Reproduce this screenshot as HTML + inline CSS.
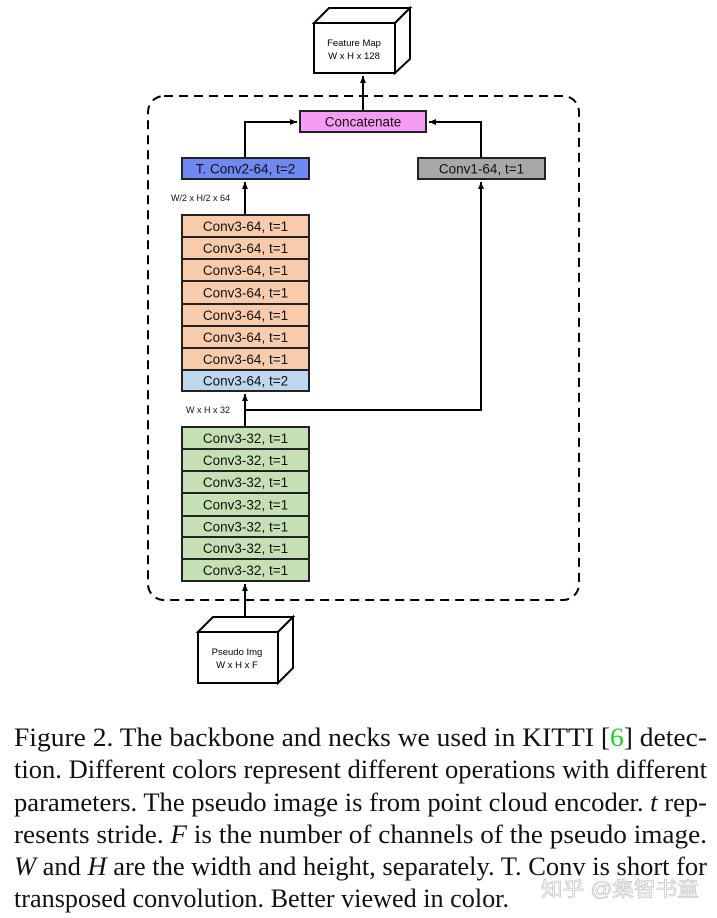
<!DOCTYPE html>
<html><head><meta charset="utf-8"><style>
html,body{margin:0;padding:0;background:#fff;}
svg{display:block;}
</style></head><body>
<svg width="717" height="918" viewBox="0 0 717 918" xmlns="http://www.w3.org/2000/svg">
<defs>
<marker id="ar" markerWidth="8" markerHeight="8" refX="7" refY="4" orient="auto" markerUnits="userSpaceOnUse">
<path d="M0,1 L7,4 L0,7 Z" fill="#000"/>
</marker>
</defs>
<rect x="0" y="0" width="717" height="918" fill="#fff"/>
<rect x="148" y="96" width="431" height="504" rx="16" ry="16" fill="none" stroke="#000" stroke-width="2" stroke-dasharray="9,6"/>

<g stroke="#000" stroke-width="2" fill="#fff">
<path d="M314,23 L329,8 L410,8 L395,23 Z"/>
<path d="M395,23 L410,8 L410,59 L395,73 Z"/>
<rect x="314" y="23" width="81" height="50"/>
</g>
<g font-family="Liberation Sans, sans-serif" font-size="9.5" text-anchor="middle" fill="#000">
<text x="354" y="46">Feature Map</text>
<text x="354" y="59">W x H x 128</text>
</g>

<g stroke="#000" stroke-width="2" fill="#fff">
<path d="M198,632 L213,617 L293,617 L278,632 Z"/>
<path d="M278,632 L293,617 L293,668 L278,683 Z"/>
<rect x="198" y="632" width="80" height="51"/>
</g>
<g font-family="Liberation Sans, sans-serif" font-size="9.5" text-anchor="middle" fill="#000">
<text x="237" y="655">Pseudo Img</text>
<text x="237" y="668">W x H x F</text>
</g>

<g stroke="#000" stroke-width="2" fill="none">
<line x1="363" y1="111" x2="363" y2="76" marker-end="url(#ar)"/>
<polyline points="245,158 245,122 297,122" marker-end="url(#ar)"/>
<polyline points="481,158 481,122 429,122" marker-end="url(#ar)"/>
<line x1="245" y1="215" x2="245" y2="182" marker-end="url(#ar)"/>
<line x1="245" y1="427" x2="245" y2="394" marker-end="url(#ar)"/>
<polyline points="245,410 481,410 481,182" marker-end="url(#ar)"/>
<line x1="245" y1="617" x2="245" y2="584" marker-end="url(#ar)"/>
</g>

<g stroke="#222" stroke-width="2">
<rect x="300" y="111" width="126" height="21" fill="#f79cf4"/>
<rect x="182" y="158" width="127" height="21" fill="#6f88f2"/>
<rect x="418" y="158" width="127" height="21" fill="#a8a8a8"/>
</g>
<g font-family="Liberation Sans, sans-serif" font-size="13.5" text-anchor="middle" fill="#111">
<text x="363" y="126.5">Concatenate</text>
<text x="245.5" y="173.5">T. Conv2-64, t=2</text>
<text x="481.5" y="173.5">Conv1-64, t=1</text>
</g>

<g stroke="#222" stroke-width="2" fill="#f8cbad">
<rect x="182" y="215" width="127" height="22"/>
<rect x="182" y="237" width="127" height="22"/>
<rect x="182" y="259" width="127" height="22"/>
<rect x="182" y="281" width="127" height="23"/>
<rect x="182" y="304" width="127" height="22"/>
<rect x="182" y="326" width="127" height="22"/>
<rect x="182" y="348" width="127" height="22"/>
<rect x="182" y="370" width="127" height="21" fill="#bdd7ee"/>
</g>
<g font-family="Liberation Sans, sans-serif" font-size="13.5" text-anchor="middle" fill="#111">
<text x="245.5" y="231">Conv3-64, t=1</text>
<text x="245.5" y="253">Conv3-64, t=1</text>
<text x="245.5" y="275">Conv3-64, t=1</text>
<text x="245.5" y="297.5">Conv3-64, t=1</text>
<text x="245.5" y="320">Conv3-64, t=1</text>
<text x="245.5" y="342">Conv3-64, t=1</text>
<text x="245.5" y="364">Conv3-64, t=1</text>
<text x="245.5" y="385.5">Conv3-64, t=2</text>
</g>

<g stroke="#222" stroke-width="2" fill="#c5e0b4">
<rect x="182" y="427" width="127" height="22"/>
<rect x="182" y="449" width="127" height="22"/>
<rect x="182" y="471" width="127" height="22"/>
<rect x="182" y="493" width="127" height="23"/>
<rect x="182" y="516" width="127" height="21"/>
<rect x="182" y="537" width="127" height="22"/>
<rect x="182" y="559" width="127" height="22"/>
</g>
<g font-family="Liberation Sans, sans-serif" font-size="13.5" text-anchor="middle" fill="#111">
<text x="245.5" y="443">Conv3-32, t=1</text>
<text x="245.5" y="465">Conv3-32, t=1</text>
<text x="245.5" y="487">Conv3-32, t=1</text>
<text x="245.5" y="509.5">Conv3-32, t=1</text>
<text x="245.5" y="531.5">Conv3-32, t=1</text>
<text x="245.5" y="553">Conv3-32, t=1</text>
<text x="245.5" y="575">Conv3-32, t=1</text>
</g>

<g font-family="Liberation Sans, sans-serif" font-size="9" fill="#111">
<text x="171" y="201">W/2 x H/2 x 64</text>
<text x="186" y="413">W x H x 32</text>
</g>

<g font-family="Liberation Serif, serif" font-size="26" fill="#111">
<text x="14" y="746" textLength="693" lengthAdjust="spacingAndGlyphs">Figure 2. The backbone and necks we used in KITTI [<tspan fill="#22cc22">6</tspan>] detec-</text>
<text x="14" y="778" textLength="693" lengthAdjust="spacingAndGlyphs">tion. Different colors represent different operations with different</text>
<text x="14" y="811" textLength="693" lengthAdjust="spacingAndGlyphs">parameters. The pseudo image is from point cloud encoder. <tspan font-style="italic">t</tspan> rep-</text>
<text x="14" y="843" textLength="693" lengthAdjust="spacingAndGlyphs">resents stride.  <tspan font-style="italic">F</tspan> is the number of channels of the pseudo image.</text>
<text x="14" y="875" textLength="693" lengthAdjust="spacingAndGlyphs"><tspan font-style="italic">W</tspan> and <tspan font-style="italic">H</tspan> are the width and height, separately. T. Conv is short for</text>
<text x="14" y="907" textLength="495" lengthAdjust="spacingAndGlyphs">transposed convolution. Better viewed in color.</text>
</g>
<text x="541" y="896" font-family="Liberation Sans, 'Noto Sans CJK SC', sans-serif" font-size="20" fill="#ffffff" stroke="#bbbbbb" stroke-width="0.6" textLength="158" lengthAdjust="spacingAndGlyphs">知乎 @集智书童</text>
</svg>
</body></html>
